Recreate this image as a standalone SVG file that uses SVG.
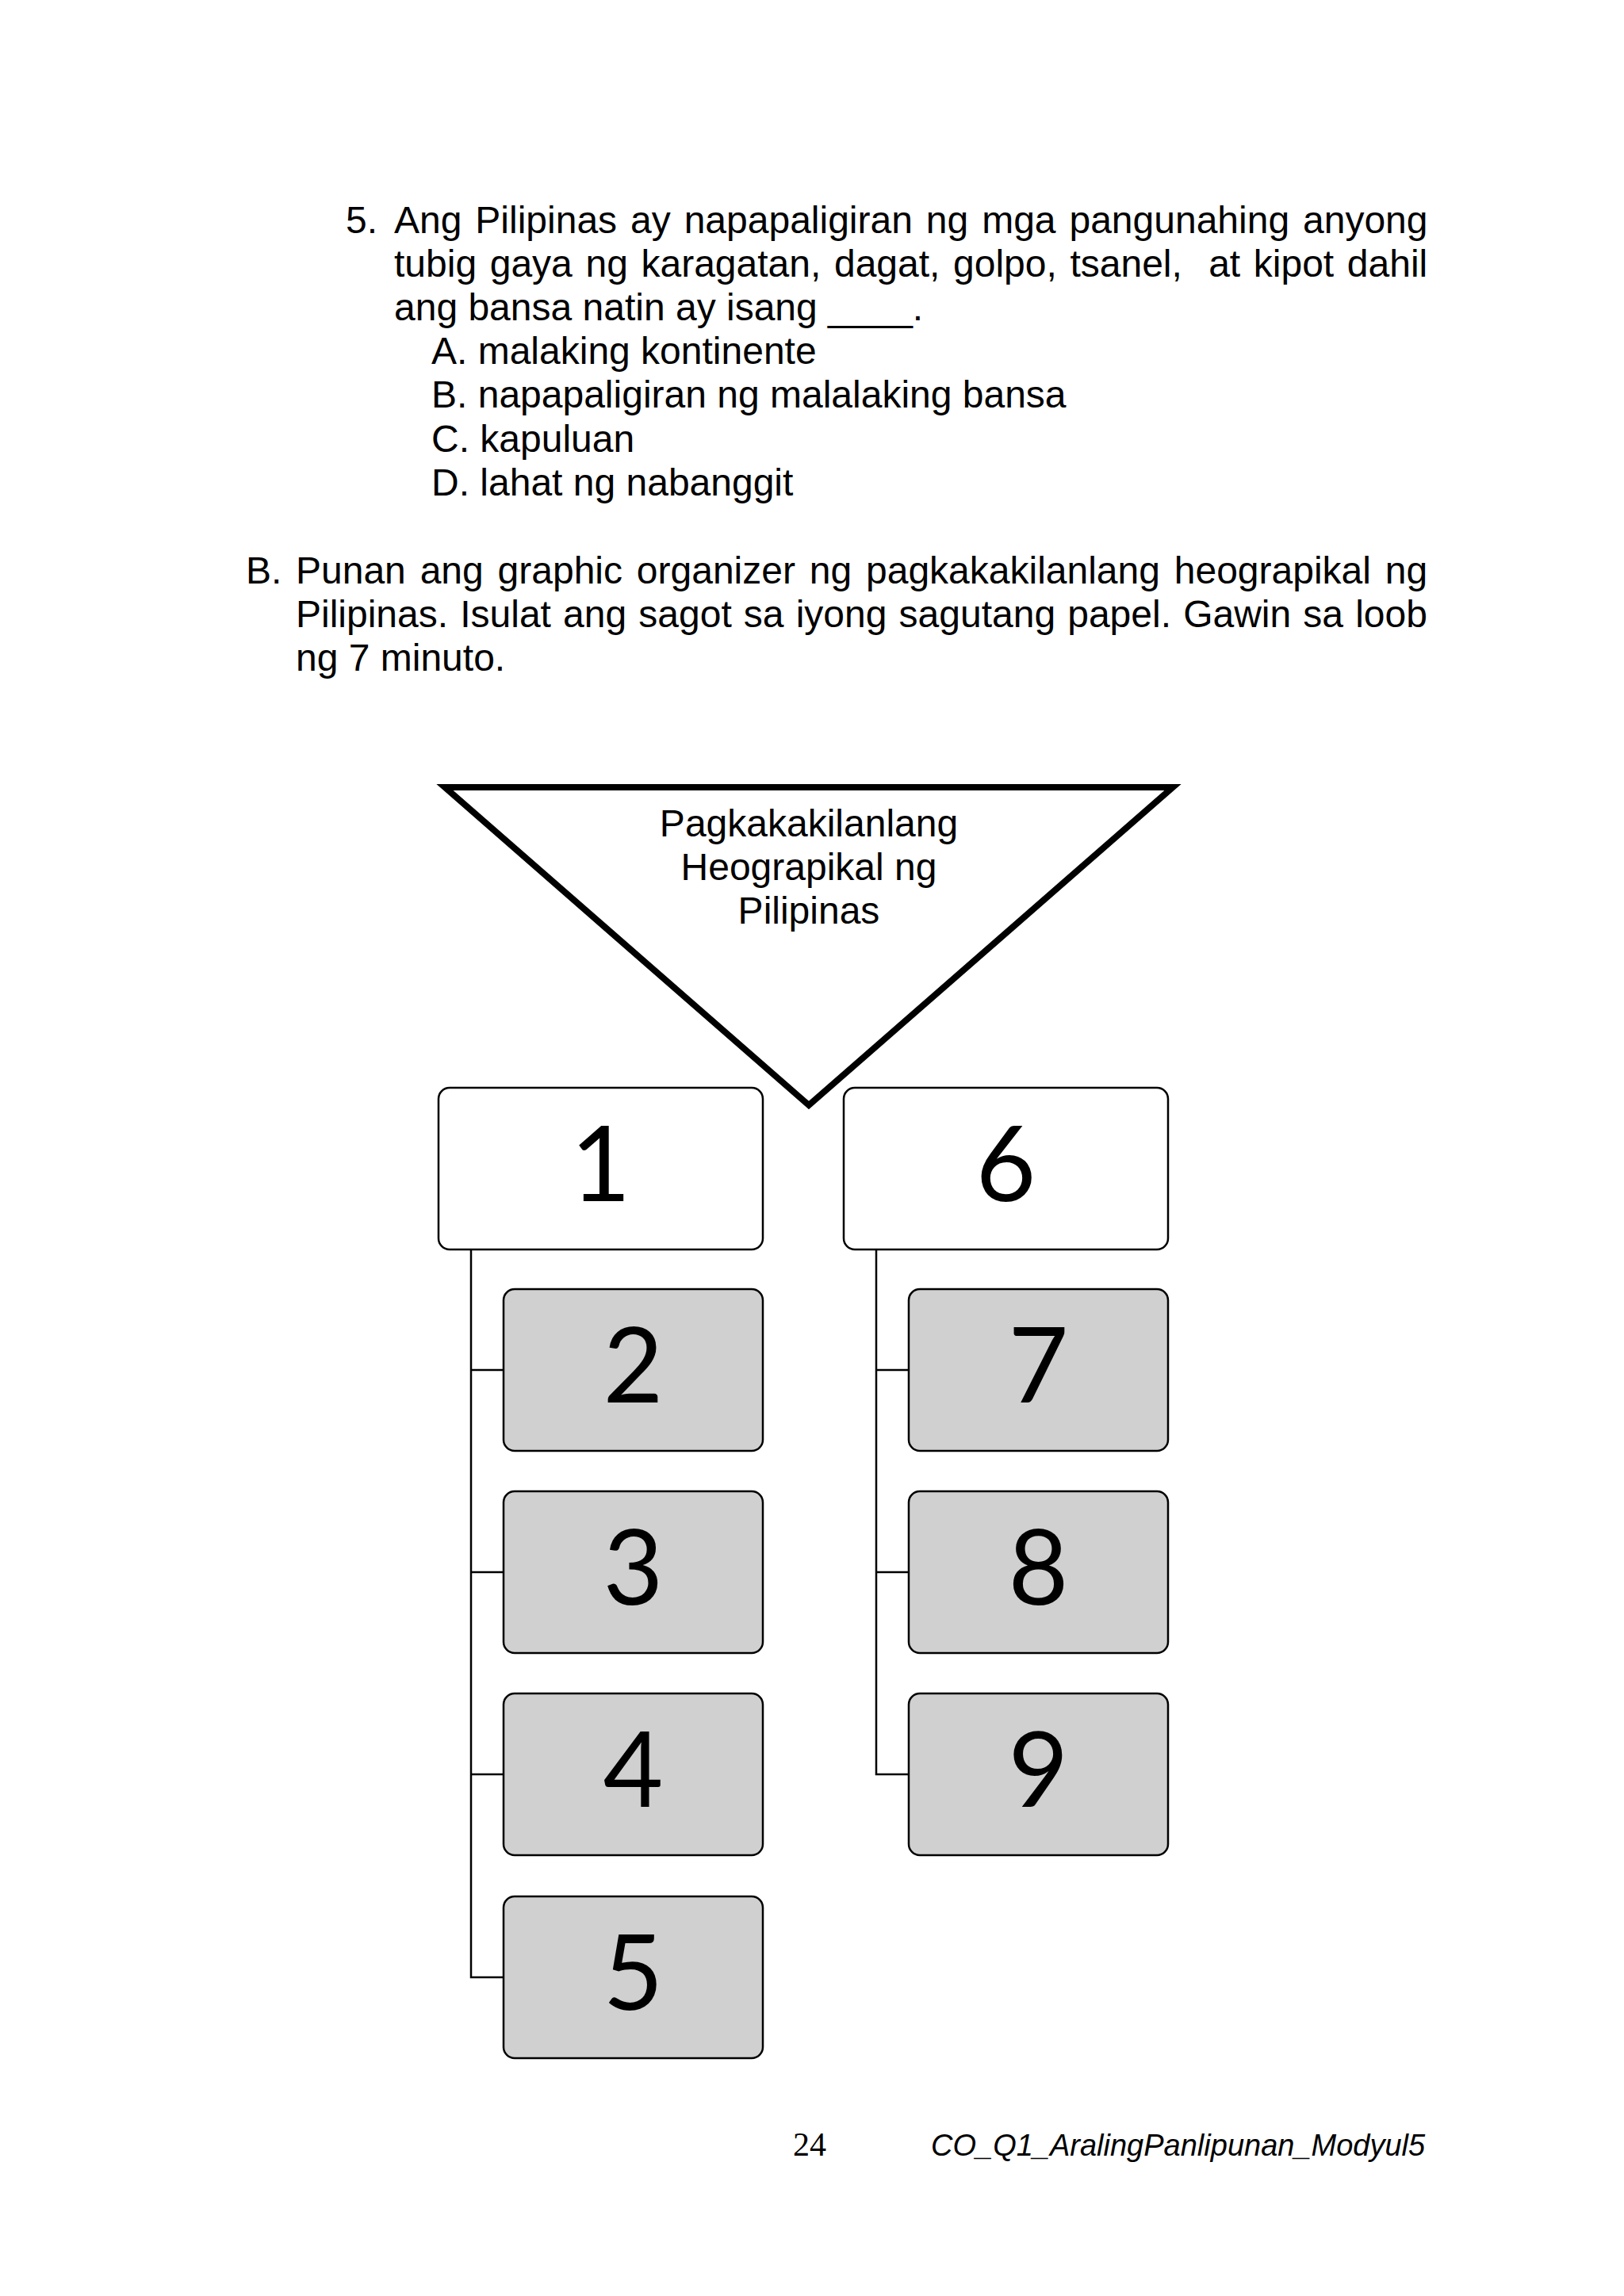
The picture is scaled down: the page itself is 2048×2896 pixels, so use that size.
<svg xmlns="http://www.w3.org/2000/svg" width="2048" height="2896" viewBox="0 0 2048 2896">
<style>
.t{font-family:"Liberation Sans",Arial,sans-serif;font-size:48px;fill:#000}
.tri{font-family:"Liberation Sans",Arial,sans-serif;font-size:48px;fill:#000;text-anchor:middle}
.box{stroke:#000;stroke-width:2.5}
.w{fill:#fff}
.g{fill:#d0d0d0}
.num{font-family:Lato,"Open Sans",sans-serif;font-size:131px;fill:#000;text-anchor:middle}
.con{stroke:#000;stroke-width:2.5;fill:none}
</style>
<rect width="2048" height="2896" fill="#fff"/>
<g id="question5">
<text class="t" x="436" y="294">5.</text>
<text class="t" x="497" y="294" word-spacing="3.6">Ang Pilipinas ay napapaligiran ng mga pangunahing anyong</text>
<text class="t" x="497" y="349" word-spacing="3.3">tubig gaya ng karagatan, dagat, golpo, tsanel, &#160;at kipot dahil</text>
<text class="t" x="497" y="404">ang bansa natin ay isang ____.</text>
<text class="t" x="544" y="459">A. malaking kontinente</text>
<text class="t" x="544" y="514">B. napapaligiran ng malalaking bansa</text>
<text class="t" x="544" y="570">C. kapuluan</text>
<text class="t" x="544" y="625">D. lahat ng nabanggit</text>
</g>
<g id="instructionB">
<text class="t" x="310" y="736">B.</text>
<text class="t" x="373" y="736" word-spacing="4.5">Punan ang graphic organizer ng pagkakakilanlang heograpikal ng</text>
<text class="t" x="373" y="791" word-spacing="1.8">Pilipinas. Isulat ang sagot sa iyong sagutang papel. Gawin sa loob</text>
<text class="t" x="373" y="846">ng 7 minuto.</text>
</g>
<g id="connectors">
<path class="con" d="M594,1576 V2494 H635 M594,1728 H635 M594,1983 H635 M594,2238 H635"/>
<path class="con" d="M1105,1576 V2238 H1146 M1105,1728 H1146 M1105,1983 H1146"/>
</g>
<g id="title-triangle">
<polygon points="561,993 1479,993 1020,1394" fill="#fff" stroke="#000" stroke-width="8" stroke-linejoin="miter"/>
<text class="tri" x="1020" y="1055">Pagkakakilanlang</text>
<text class="tri" x="1020" y="1110">Heograpikal ng</text>
<text class="tri" x="1020" y="1165">Pilipinas</text>
</g>
<g id="node1"><rect class="box w" x="553" y="1372" width="409" height="204" rx="14"/><text class="num" x="757.5" y="1515">1</text></g>
<g id="node2"><rect class="box g" x="635" y="1626" width="327" height="204" rx="14"/><text class="num" x="798.5" y="1769">2</text></g>
<g id="node3"><rect class="box g" x="635" y="1881" width="327" height="204" rx="14"/><text class="num" x="798.5" y="2024">3</text></g>
<g id="node4"><rect class="box g" x="635" y="2136" width="327" height="204" rx="14"/><text class="num" x="798.5" y="2279">4</text></g>
<g id="node5"><rect class="box g" x="635" y="2392" width="327" height="204" rx="14"/><text class="num" x="798.5" y="2535">5</text></g>
<g id="node6"><rect class="box w" x="1064" y="1372" width="409" height="204" rx="14"/><text class="num" x="1268.5" y="1515">6</text></g>
<g id="node7"><rect class="box g" x="1146" y="1626" width="327" height="204" rx="14"/><text class="num" x="1309.5" y="1769">7</text></g>
<g id="node8"><rect class="box g" x="1146" y="1881" width="327" height="204" rx="14"/><text class="num" x="1309.5" y="2024">8</text></g>
<g id="node9"><rect class="box g" x="1146" y="2136" width="327" height="204" rx="14"/><text class="num" x="1309.5" y="2279">9</text></g>
<g id="footer">
<text x="1000" y="2719" font-family="'Liberation Serif','Times New Roman',serif" font-size="42">24</text>
<text x="1174" y="2719" font-family="'Liberation Sans',Arial,sans-serif" font-size="38" font-style="italic">CO_Q1_AralingPanlipunan_Modyul5</text>
</g>
</svg>
